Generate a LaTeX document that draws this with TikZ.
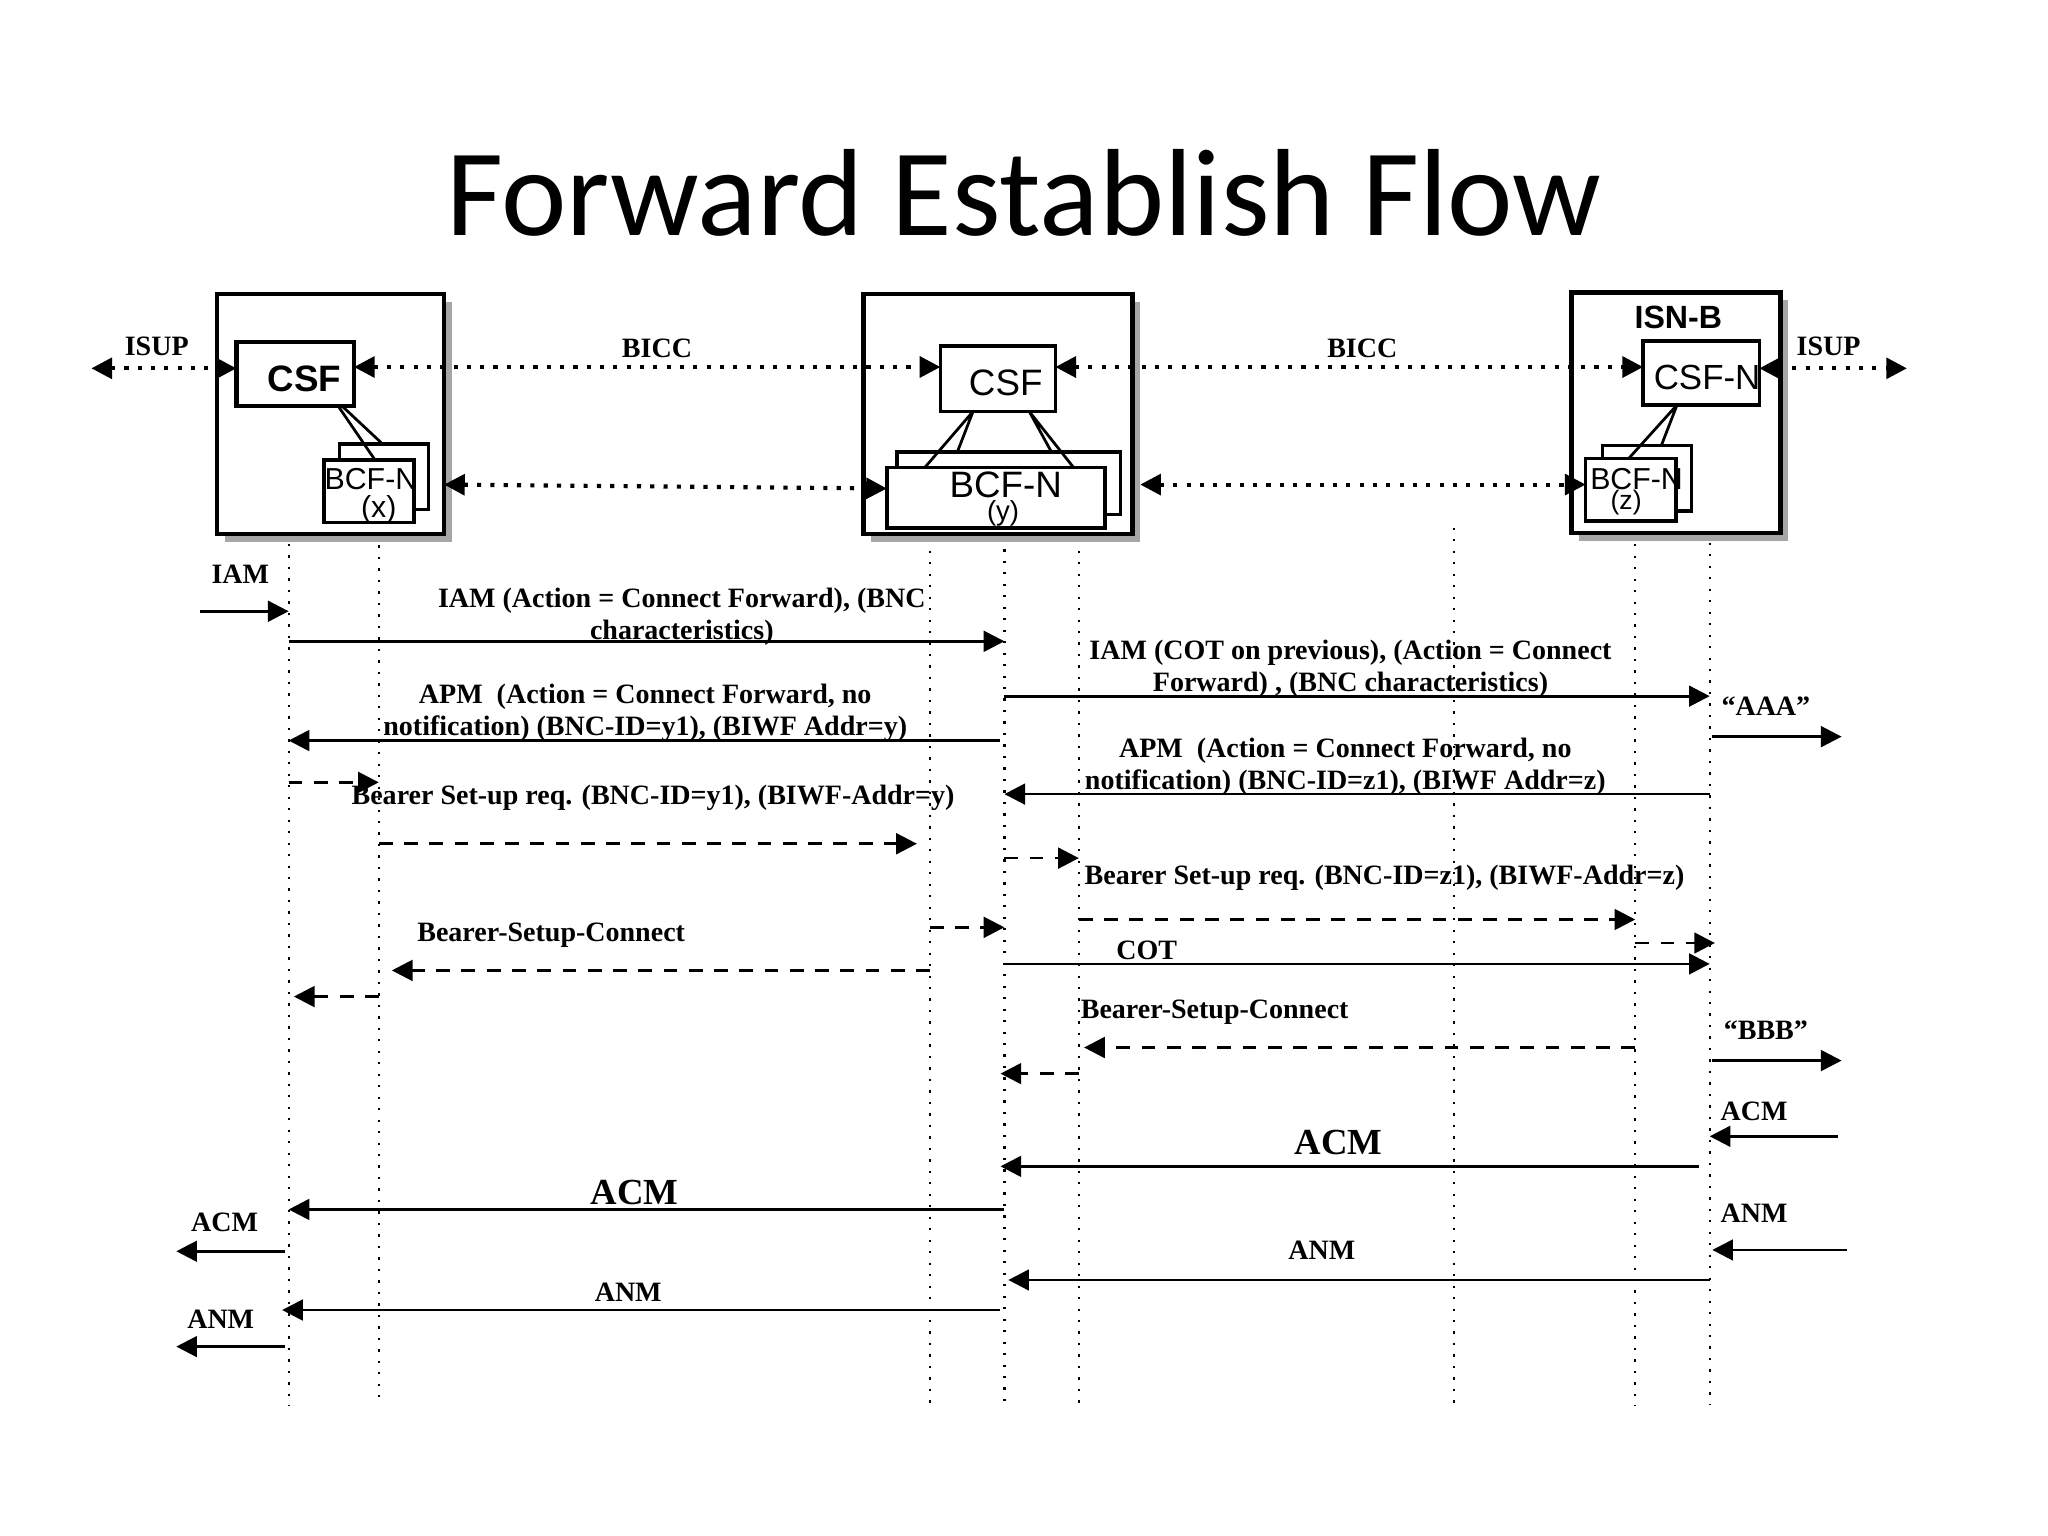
\documentclass[tikz,border=0pt]{standalone}
\usepackage{fontspec}
\setmainfont{Liberation Serif}
\setsansfont{Liberation Sans}
\newfontfamily\titlefont{Carlito}
\usetikzlibrary{arrows.meta}
\tikzset{
	box/.style = {draw=black, line width=0.8pt, fill=white},
	shadowbox/.style = {box, line width=1pt},
	lbl/.style = {font=\fontsize{6.1}{6.9}\selectfont\bfseries, align=center, inner sep=0pt},
	biglbl/.style = {font=\fontsize{8}{9}\selectfont\bfseries, inner sep=0pt},
	fn/.style = {font=\sffamily\fontsize{6.6}{7.5}\selectfont, inner sep=0pt},
	tip/.style = {-{Triangle[length=4.5pt,width=4.5pt]}},
	msg/.style = {tip, line width=0.6pt},
	dmsg/.style = {tip, line width=0.6pt, dash pattern=on 3pt off 2.5pt},
	dot/.style = {line width=0.9pt, dotted, {Triangle[length=4.5pt,width=4.5pt]}-{Triangle[length=4.5pt,width=4.5pt]}},
	life/.style = {line width=0.5pt, dotted}
}
% message from lifeline to lifeline at a given height
\newcommand{\msgto}[4]{%
	\coordinate (m#1a) at (#2,#1);
	\coordinate (m#1b) at (#3,#1);
	\draw[#4] (m#1a) -- (m#1b);
}
\begin{document}
\begin{tikzpicture}[x=0.01cm, y=-0.01cm]
\useasboundingbox (0,0) rectangle (1568,1176);
\node[font=\titlefont\fontsize{27}{28}\selectfont] (title) at (784,148) {Forward Establish Flow};

% lifelines
\foreach \lx/\ly in {221/311, 290/400, 712/404, 769/315, 826/404, 1113/404, 1252/399, 1309/310}
	\draw[life] (\lx,\ly) -- (\lx,1076);

% network nodes with shadow
\foreach \bx/\by/\ex/\ey/\nm in {166/225/340/409/isnA, 661/225/867/409/isnC, 1203/224/1363/408/isnB} {
	\fill[gray!70] (\bx+6,\by+6) rectangle (\ex+6,\ey+6);
	\draw[shadowbox] (\bx,\by) rectangle (\ex,\ey);
	\coordinate (\nm) at (\bx,\by);
}
\node[font=\sffamily\bfseries\fontsize{7}{8}\selectfont] (isnBlbl) at (1285,243) {ISN-B};

% CSF boxes
\draw[box, line width=1pt] (181,262) rectangle (271,311);
\node[fn, font=\sffamily\bfseries\fontsize{8}{9}\selectfont] (csfA) at (233,290) {CSF};
\draw[box] (720,265) rectangle (808,315);
\node[fn, font=\sffamily\fontsize{8}{9}\selectfont] (csfC) at (770,293) {CSF};
\draw[box] (1258,261) rectangle (1347,310);
\node[fn, font=\sffamily\fontsize{7.6}{9}\selectfont] (csfB) at (1307,289) {CSF-N};

% BCF boxes
\draw[box] (260,340) rectangle (328,390);
\draw[box] (248,352) rectangle (317,400);
\node[fn] (bcfA) at (284,367) {BCF-N};
\node[fn] (bcfAx) at (290,390) {(x)};
\draw[line width=0.6pt] (259,311) -- (287,352) (262,311) -- (293,340);

\draw[box] (687,346) rectangle (858,394);
\draw[box] (679,358) rectangle (846,404);
\node[fn, font=\sffamily\fontsize{8}{9}\selectfont] (bcfC) at (770,371) {BCF-N};
\node[fn, font=\sffamily\fontsize{6}{7}\selectfont] (bcfCy) at (768,393) {(y)};
\draw[line width=0.6pt] (745,315) -- (708,358) (745,315) -- (733,346)
	(788,315) -- (822,358) (788,315) -- (805,346);

\draw[box] (1227,341) rectangle (1295,391);
\draw[box] (1214,351) rectangle (1283,399);
\node[fn] (bcfB) at (1253,367) {BCF-N};
\node[fn, font=\sffamily\fontsize{5.8}{7}\selectfont] (bcfBz) at (1245,385) {(z)};
\draw[line width=0.6pt] (1284,310) -- (1247,351) (1284,310) -- (1272,341);

% signalling links
\msgto{282}{70}{181}{dot}
\node[lbl] (isupA) at (120,265) {ISUP};
\draw[dot] (271,281) -- (720,281);
\node[lbl] (biccA) at (503,267) {BICC};
\draw[dot] (808,281) -- (1258,281);
\node[lbl] (biccB) at (1043,267) {BICC};
\draw[dot] (1347,282) -- (1460,282);
\node[lbl] (isupB) at (1400,265) {ISUP};
\draw[dot] (340,371) -- (679,374);
\draw[dot] (873,371) -- (1214,371);

% call flow
\msgto{468}{153}{221}{msg}
\node[lbl] (iam0) at (184,440) {IAM};
\msgto{491}{221}{769}{msg}
\node[lbl] (iam1) at (522,472) {IAM (Action = Connect Forward), (BNC\\characteristics)};
\msgto{533}{769}{1309}{msg}
\node[lbl] (iam2) at (1034,512) {IAM (COT on previous), (Action = Connect\\Forward) , (BNC characteristics)};
\node[lbl] (aaa) at (1352,541) {“AAA”};
\msgto{564}{1311}{1410}{msg}
\msgto{567}{766}{221}{msg}
\node[lbl] (apm1) at (494,546) {APM\ \ (Action = Connect Forward, no\\notification) (BNC-ID=y1), (BIWF Addr=y)};
\msgto{608}{1309}{769}{msg}
\node[lbl] (apm2) at (1030,587) {APM\ \ (Action = Connect Forward, no\\notification) (BNC-ID=z1), (BIWF Addr=z)};
\msgto{599}{221}{290}{dmsg}
\node[lbl] (bsr1) at (500,611) {Bearer Set-up req. (BNC-ID=y1), (BIWF-Addr=y)};
\msgto{646}{290}{702}{dmsg}
\msgto{657}{769}{826}{dmsg}
\node[lbl] (bsr2) at (1060,672) {Bearer Set-up req. (BNC-ID=z1), (BIWF-Addr=z)};
\msgto{704}{826}{1252}{dmsg}
\msgto{710}{712}{769}{dmsg}
\node[lbl] (bsc1) at (422,716) {Bearer-Setup-Connect};
\msgto{743}{712}{300}{dmsg}
\msgto{722}{1252}{1313}{dmsg}
\msgto{738}{769}{1309}{msg}
\node[lbl] (cot) at (878,728) {COT};
\msgto{763}{290}{225}{dmsg}
\node[lbl] (bsc2) at (930,775) {Bearer-Setup-Connect};
\msgto{802}{1252}{830}{dmsg}
\node[lbl] (bbb) at (1352,789) {“BBB”};
\msgto{812}{1311}{1410}{msg}
\msgto{822}{826}{766}{dmsg}
\node[lbl] (acm0) at (1343,851) {ACM};
\msgto{870}{1407}{1309}{msg}
\node[biglbl] (acm1) at (1025,875) {ACM};
\msgto{893}{1301}{766}{msg}
\node[biglbl] (acm2) at (486,913) {ACM};
\msgto{926}{769}{221}{msg}
\node[lbl] (acm3) at (172,936) {ACM};
\msgto{958}{218}{135}{msg}
\node[lbl] (anm0) at (1343,929) {ANM};
\msgto{957}{1414}{1311}{msg}
\node[lbl] (anm1) at (1012,957) {ANM};
\msgto{980}{1309}{772}{msg}
\node[lbl] (anm2) at (481,989) {ANM};
\msgto{1003}{766}{216}{msg}
\node[lbl] (anm3) at (169,1010) {ANM};
\msgto{1031}{218}{135}{msg}
\end{tikzpicture}
\end{document}
